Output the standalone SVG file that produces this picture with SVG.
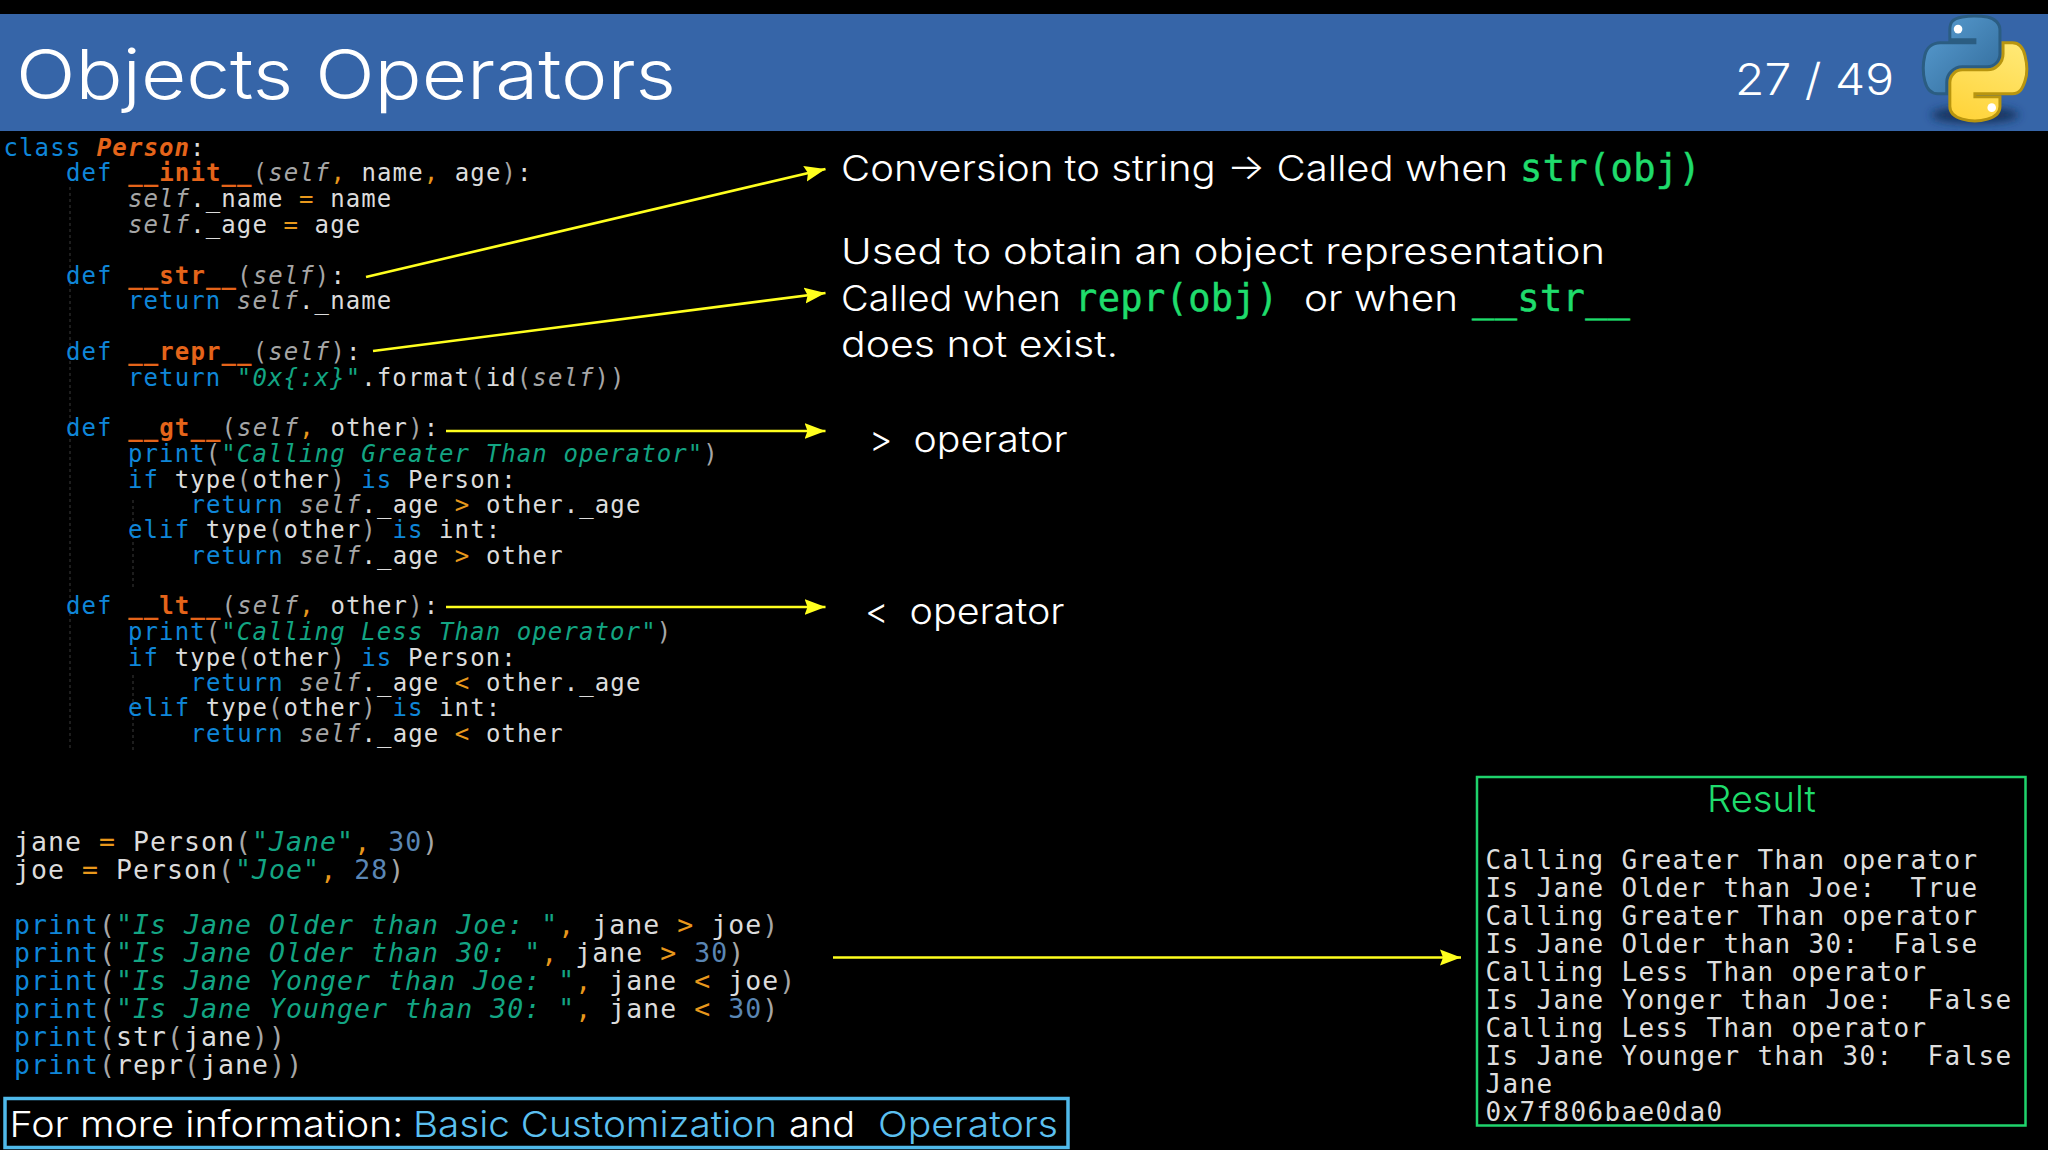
<svg xmlns="http://www.w3.org/2000/svg" width="2048" height="1150" viewBox="0 0 2048 1150">
<style>
text{white-space:pre}
.s{font-family:"Inter","Noto Sans",sans-serif;font-weight:300;fill:#fff;font-size:36px}
.g{font-family:"DejaVu Sans Mono","Liberation Mono",monospace;fill:#1fdc6c;font-size:37px;letter-spacing:.35px;stroke:#1fdc6c;stroke-width:.5px}
.c{font-family:"DejaVu Sans Mono","Liberation Mono",monospace;font-size:24px;letter-spacing:1.1px;fill:#dcdcdc}
.b{font-family:"DejaVu Sans Mono","Liberation Mono",monospace;font-size:26.5px;letter-spacing:1.05px;fill:#dcdcdc}
.r{font-family:"DejaVu Sans Mono","Liberation Mono",monospace;font-size:26px;letter-spacing:1.35px;fill:#dedede}
.k{fill:#0f86d8}.f{fill:#e5641a;font-weight:700}.t{fill:#13a583;font-style:italic}.o{fill:#e8981c}.e{fill:#a6a6a6;font-style:italic}.n{fill:#5a86b4}.p{fill:#a6a6a6}
.a{stroke:#ffff1e;stroke-width:2.6;fill:none;marker-end:url(#h)}
.i{stroke:#3a3a3a;stroke-width:1;stroke-dasharray:3 3;fill:none}
</style>
<defs>
<marker id="h" markerUnits="userSpaceOnUse" markerWidth="22" markerHeight="18" refX="21" refY="9" orient="auto"><path d="M0 1L21 9L0 17L3 9z" fill="#ffff1e"/></marker>
<linearGradient id="lb" x1="0" y1="0" x2="1" y2="1"><stop offset="0" stop-color="#5a9fd4"/><stop offset="1" stop-color="#306998"/></linearGradient>
<linearGradient id="ly" x1="0.3" y1="1" x2="0.7" y2="0"><stop offset="0" stop-color="#ffd43b"/><stop offset="1" stop-color="#ffe873"/></linearGradient>
<filter id="bl" x="-30%" y="-80%" width="160%" height="260%"><feGaussianBlur stdDeviation="5"/></filter>
</defs>
<rect width="2048" height="1150" fill="#000"/>
<g id="header">
<rect x="0" y="14" width="2048" height="117" fill="#3665a8"/>
<text x="16" y="99" font-family="Inter,'Noto Sans',sans-serif" font-weight="300" font-size="69" fill="#fff" textLength="660" lengthAdjust="spacingAndGlyphs">Objects Operators</text>
<text x="1735" y="95" font-family="Inter,'Noto Sans',sans-serif" font-weight="300" font-size="44" fill="#fff" textLength="159" lengthAdjust="spacingAndGlyphs">27 / 49</text>
<g id="logo">
<ellipse cx="1975" cy="115" rx="44" ry="8" fill="#16305c" filter="url(#bl)"/>
<g transform="translate(1923 16) scale(.935)" stroke-width="3.2">
<path fill="url(#lb)" stroke="#2b5d82" d="M54.9 0C50.3 0 46 .4 42.1 1.1 30.8 3.1 28.7 7.3 28.7 15V25.3H55.5V28.7H18.6C10.8 28.7 4 33.3 1.9 42.3-.6 52.5-.7 58.8 1.9 69.5 3.8 77.4 8.3 83.1 16.1 83.1H25.4V70.8C25.4 62 33 54.2 42.1 54.2H68.9C76.3 54.2 82.3 48.1 82.3 40.6V15C82.3 7.8 76.2 2.3 68.9 1.1 64.3.3 59.5 0 54.9 0z"/>
<path fill="url(#ly)" stroke="#b8950f" d="M85.6 28.7V40.6C85.6 49.8 77.8 57.6 68.9 57.6H42.1C34.8 57.6 28.7 63.8 28.7 71.2V96.7C28.7 104 35 108.3 42.1 110.3 50.6 112.8 58.7 113.3 68.9 110.3 75.6 108.4 82.3 104.5 82.3 96.7V86.5H55.5V83.1H95.7C103.5 83.1 106.4 77.7 109.1 69.5 112 61.1 111.8 53 109.1 42.3 107.2 34.5 103.5 28.7 95.7 28.7z"/>
<circle cx="37.5" cy="14" r="4.6" fill="#fff"/><circle cx="73.5" cy="98" r="4.6" fill="#fff"/>
</g></g>
</g>
<g id="code-guides">
<path class="i" d="M70 187V750M133 500V590M133 675V750"/>
</g>
<g id="class-code" transform="translate(0 1)">
<text class="c" x="3.5" y="155"><tspan class="k">class</tspan> <tspan style="fill:#e5641a;font-weight:700;font-style:italic">Person</tspan>:</text>
<text class="c" x="66" y="180"><tspan class="k">def</tspan> <tspan class="f">__init__</tspan><tspan class="p">(</tspan><tspan class="e">self</tspan><tspan class="o">,</tspan> name<tspan class="o">,</tspan> age<tspan class="p">)</tspan>:</text>
<text class="c" x="128" y="206"><tspan class="e">self</tspan>._name <tspan class="o">=</tspan> name</text>
<text class="c" x="128" y="232"><tspan class="e">self</tspan>._age <tspan class="o">=</tspan> age</text>
<text class="c" x="66" y="283"><tspan class="k">def</tspan> <tspan class="f">__str__</tspan><tspan class="p">(</tspan><tspan class="e">self</tspan><tspan class="p">)</tspan>:</text>
<text class="c" x="128" y="308"><tspan class="k">return</tspan> <tspan class="e">self</tspan>._name</text>
<text class="c" x="66" y="359"><tspan class="k">def</tspan> <tspan class="f">__repr__</tspan><tspan class="p">(</tspan><tspan class="e">self</tspan><tspan class="p">)</tspan>:</text>
<text class="c" x="128" y="385"><tspan class="k">return</tspan> <tspan class="t">"0x{:x}"</tspan>.format<tspan class="p">(</tspan>id<tspan class="p">(</tspan><tspan class="e">self</tspan><tspan class="p">))</tspan></text>
<text class="c" x="66" y="435"><tspan class="k">def</tspan> <tspan class="f">__gt__</tspan><tspan class="p">(</tspan><tspan class="e">self</tspan><tspan class="o">,</tspan> other<tspan class="p">)</tspan>:</text>
<text class="c" x="128" y="461"><tspan class="k">print</tspan><tspan class="p">(</tspan><tspan class="t">"Calling Greater Than operator"</tspan><tspan class="p">)</tspan></text>
<text class="c" x="128" y="486.5"><tspan class="k">if</tspan> type<tspan class="p">(</tspan>other<tspan class="p">)</tspan> <tspan class="k">is</tspan> Person:</text>
<text class="c" x="190.5" y="512"><tspan class="k">return</tspan> <tspan class="e">self</tspan>._age <tspan class="o">&gt;</tspan> other._age</text>
<text class="c" x="128" y="537"><tspan class="k">elif</tspan> type<tspan class="p">(</tspan>other<tspan class="p">)</tspan> <tspan class="k">is</tspan> int:</text>
<text class="c" x="190.5" y="563"><tspan class="k">return</tspan> <tspan class="e">self</tspan>._age <tspan class="o">&gt;</tspan> other</text>
<text class="c" x="66" y="613"><tspan class="k">def</tspan> <tspan class="f">__lt__</tspan><tspan class="p">(</tspan><tspan class="e">self</tspan><tspan class="o">,</tspan> other<tspan class="p">)</tspan>:</text>
<text class="c" x="128" y="639"><tspan class="k">print</tspan><tspan class="p">(</tspan><tspan class="t">"Calling Less Than operator"</tspan><tspan class="p">)</tspan></text>
<text class="c" x="128" y="665"><tspan class="k">if</tspan> type<tspan class="p">(</tspan>other<tspan class="p">)</tspan> <tspan class="k">is</tspan> Person:</text>
<text class="c" x="190.5" y="690"><tspan class="k">return</tspan> <tspan class="e">self</tspan>._age <tspan class="o">&lt;</tspan> other._age</text>
<text class="c" x="128" y="715"><tspan class="k">elif</tspan> type<tspan class="p">(</tspan>other<tspan class="p">)</tspan> <tspan class="k">is</tspan> int:</text>
<text class="c" x="190.5" y="741"><tspan class="k">return</tspan> <tspan class="e">self</tspan>._age <tspan class="o">&lt;</tspan> other</text>
</g>
<g id="usage-code" transform="translate(0 1)">
<text class="b" x="14" y="850">jane <tspan class="o">=</tspan> Person<tspan class="p">(</tspan><tspan class="t">"Jane"</tspan><tspan class="o">,</tspan> <tspan class="n">30</tspan><tspan class="p">)</tspan></text>
<text class="b" x="14" y="878">joe <tspan class="o">=</tspan> Person<tspan class="p">(</tspan><tspan class="t">"Joe"</tspan><tspan class="o">,</tspan> <tspan class="n">28</tspan><tspan class="p">)</tspan></text>
<text class="b" x="14" y="933"><tspan class="k">print</tspan><tspan class="p">(</tspan><tspan class="t">"Is Jane Older than Joe: "</tspan><tspan class="o">,</tspan> jane <tspan class="o">&gt;</tspan> joe<tspan class="p">)</tspan></text>
<text class="b" x="14" y="961"><tspan class="k">print</tspan><tspan class="p">(</tspan><tspan class="t">"Is Jane Older than 30: "</tspan><tspan class="o">,</tspan> jane <tspan class="o">&gt;</tspan> <tspan class="n">30</tspan><tspan class="p">)</tspan></text>
<text class="b" x="14" y="989"><tspan class="k">print</tspan><tspan class="p">(</tspan><tspan class="t">"Is Jane Yonger than Joe: "</tspan><tspan class="o">,</tspan> jane <tspan class="o">&lt;</tspan> joe<tspan class="p">)</tspan></text>
<text class="b" x="14" y="1017"><tspan class="k">print</tspan><tspan class="p">(</tspan><tspan class="t">"Is Jane Younger than 30: "</tspan><tspan class="o">,</tspan> jane <tspan class="o">&lt;</tspan> <tspan class="n">30</tspan><tspan class="p">)</tspan></text>
<text class="b" x="14" y="1045"><tspan class="k">print</tspan><tspan class="p">(</tspan>str<tspan class="p">(</tspan>jane<tspan class="p">))</tspan></text>
<text class="b" x="14" y="1073"><tspan class="k">print</tspan><tspan class="p">(</tspan>repr<tspan class="p">(</tspan>jane<tspan class="p">))</tspan></text>
</g>
<g id="note-str">
<text class="s" x="841" y="181" textLength="667" lengthAdjust="spacingAndGlyphs">Conversion to string → Called when</text>
<text class="g" x="1520" y="181">str(obj)</text>
</g>
<g id="note-repr">
<text class="s" x="841" y="263.5" textLength="764" lengthAdjust="spacingAndGlyphs">Used to obtain an object representation</text>
<text class="s" x="841" y="310.5" textLength="220" lengthAdjust="spacingAndGlyphs">Called when</text>
<text class="g" x="1075" y="310.5">repr(obj)</text>
<text class="s" x="1304" y="310.5" textLength="154" lengthAdjust="spacingAndGlyphs">or when</text>
<text class="g" x="1472" y="310.5">__str__</text>
<text class="s" x="841" y="356.5" textLength="277" lengthAdjust="spacingAndGlyphs">does not exist.</text>
</g>
<g id="note-gt">
<text class="s" x="869" y="451.5">&gt;</text>
<text class="s" x="913.5" y="451.5" textLength="154" lengthAdjust="spacingAndGlyphs">operator</text>
</g>
<g id="note-lt">
<text class="s" x="865" y="624">&lt;</text>
<text class="s" x="909.5" y="624" textLength="155" lengthAdjust="spacingAndGlyphs">operator</text>
</g>
<g id="connectors">
<line class="a" x1="366" y1="277" x2="825.5" y2="169"/>
<line class="a" x1="373" y1="351" x2="825.5" y2="293"/>
<line class="a" x1="446" y1="431" x2="825.5" y2="431"/>
<line class="a" x1="446" y1="607" x2="825.5" y2="607"/>
<line class="a" x1="833" y1="957.5" x2="1461" y2="957.5"/>
</g>
<g id="result">
<rect x="1477" y="777" width="548.5" height="348.5" fill="none" stroke="#1fd36c" stroke-width="2.5"/>
<text x="1707" y="812" font-family="Inter,'Noto Sans',sans-serif" font-weight="300" font-size="37" fill="#1fdc6c" textLength="109" lengthAdjust="spacingAndGlyphs">Result</text>
<g transform="translate(-1 1)">
<text class="r" x="1486.5" y="868">Calling Greater Than operator</text>
<text class="r" x="1486.5" y="896">Is Jane Older than Joe:  True</text>
<text class="r" x="1486.5" y="924">Calling Greater Than operator</text>
<text class="r" x="1486.5" y="952">Is Jane Older than 30:  False</text>
<text class="r" x="1486.5" y="980">Calling Less Than operator</text>
<text class="r" x="1486.5" y="1008">Is Jane Yonger than Joe:  False</text>
<text class="r" x="1486.5" y="1036">Calling Less Than operator</text>
<text class="r" x="1486.5" y="1064">Is Jane Younger than 30:  False</text>
<text class="r" x="1486.5" y="1092">Jane</text>
<text class="r" x="1486.5" y="1120">0x7f806bae0da0</text>
</g>
</g>
<g id="more-info">
<rect x="5" y="1098.5" width="1063" height="49" fill="none" stroke="#4fb9ea" stroke-width="3.5"/>
<text class="s" x="9.5" y="1136.5" textLength="394" lengthAdjust="spacingAndGlyphs">For more information:</text>
<text class="s" x="413" y="1136.5" textLength="364" lengthAdjust="spacingAndGlyphs" style="fill:#5cc0f0">Basic Customization</text>
<text class="s" x="789" y="1136.5" textLength="66" lengthAdjust="spacingAndGlyphs">and</text>
<text class="s" x="878" y="1136.5" textLength="180" lengthAdjust="spacingAndGlyphs" style="fill:#5cc0f0">Operators</text>
</g>
</svg>
